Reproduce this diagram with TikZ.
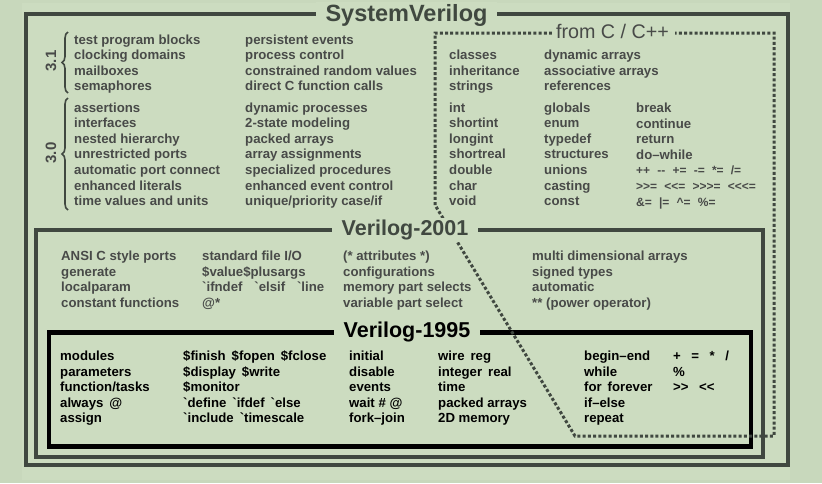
\documentclass[tikz,border=0pt]{standalone}
\usepackage{fontspec}
\setmainfont{Liberation Sans}[Ligatures=TeXOff]
\usetikzlibrary{decorations.pathreplacing}
\definecolor{bgout}{RGB}{200,216,188}
\definecolor{bgin}{RGB}{204,220,192}
\definecolor{frame}{RGB}{64,72,64}
\definecolor{txtgray}{RGB}{72,74,72}
\tikzset{
  svtxt/.style={anchor=base west, inner sep=0pt, text=txtgray, font=\fontsize{13.2}{15}\selectfont\bfseries},
  oldtxt/.style={anchor=base west, inner sep=0pt, text=black, font=\fontsize{13.2}{15}\selectfont\bfseries},
  title/.style={anchor=base, fill=bgin, inner xsep=10pt, inner ysep=2pt, font=\fontsize{21.5}{24}\selectfont\bfseries},
  brc/.style={draw=frame, line width=1.6pt, decorate, decoration={brace, amplitude=6pt}},
  dotline/.style={draw=frame, line width=3pt, dash pattern=on 3pt off 2.2pt}
}
\newcommand\colm[5]{%
  \foreach \t [count=\i] in {#5} \node[#4, name=#1\i] at (#2, {#3+(\i-1)*15.6}) {\t};}
\newcommand\gapx{\hspace{0.45em}}
\newcommand\gapo{\hspace{0.6em}}
\begin{document}
\begin{tikzpicture}[x=1pt,y=-1pt]
\fill[bgout] (0,0) rectangle (822,483);
\useasboundingbox (0,0) rectangle (822,483);
\fill[bgin] (22,3) rectangle (790,480);
% frames
\draw[frame, line width=4.5pt] (26,14) rectangle (788,465);
\draw[frame, line width=3.8pt] (36,230) rectangle (763,457);
\draw[black, line width=4.5pt] (49,332.5) rectangle (751,446.5);
% from C / C++ dotted outline
\coordinate (c1) at (552,33);
\coordinate (c2) at (435,33);
\coordinate (c3) at (435,205);
\coordinate (c4) at (575,436);
\coordinate (c5) at (774,436);
\coordinate (c6) at (774,33);
\coordinate (c7) at (675,33);
\draw[dotline] (c1) -- (c2) -- (c3) -- (c4) -- (c5) -- (c6) -- (c7);
% titles
\node[title, text=frame, font=\fontsize{23.5}{26}\selectfont\bfseries] (tsv) at (406.5,21) {SystemVerilog};
\node[title, text=frame] (t01) at (405,235.5) {Verilog-2001};
\node[title, text=black] (t95) at (407,337.5) {Verilog-1995};
\node[title, text=txtgray, inner xsep=4pt, font=\fontsize{19.7}{22}\selectfont] (tc) at (612.5,38.5) {from C / C++};
% braces
\draw[brc] (68,93) -- (68,32);
\draw[brc] (68,210) -- (68,98);
\node[rotate=90, inner sep=0pt, text=txtgray, font=\fontsize{15}{17}\selectfont\bfseries] (l31) at (51,61) {3.1};
\node[rotate=90, inner sep=0pt, text=txtgray, font=\fontsize{15}{17}\selectfont\bfseries] (l30) at (51,153) {3.0};
% SystemVerilog 3.1
\colm{sa}{74}{44}{svtxt}{test program blocks, clocking domains, mailboxes, semaphores}
\colm{sb}{245}{44}{svtxt}{persistent events, process control, constrained random values, direct C function calls}
% SystemVerilog 3.0
\colm{sc}{74}{112}{svtxt}{assertions, interfaces, nested hierarchy, unrestricted ports, automatic port connect, enhanced literals, time values and units}
\colm{sd}{245}{112}{svtxt}{dynamic processes, 2-state modeling, packed arrays, array assignments, specialized procedures, enhanced event control, unique/priority case/if}
% from C / C++
\colm{ca}{449}{59.6}{svtxt}{classes, inheritance, strings}
\colm{cb}{544}{59.6}{svtxt}{dynamic arrays, associative arrays, references}
\colm{cc}{449}{112}{svtxt}{int, shortint, longint, shortreal, double, char, void}
\colm{cd}{544}{112}{svtxt}{globals, enum, typedef, structures, unions, casting, const}
\colm{ce}{636}{112.5}{svtxt}{break, continue, return, do–while, {\fontsize{12}{14}\selectfont++\gapo--\gapo+=\gapo-=\gapo*=\gapo/=}, {\fontsize{12}{14}\selectfont>>=\gapo<<=\gapo>>>=\gapo<<<=}, {\fontsize{12}{14}\selectfont\&=\gapo|=\gapo\textasciicircum=\gapo\%=}}
% Verilog-2001
\colm{va}{61}{260.5}{svtxt}{ANSI C style ports, generate, localparam, constant functions}
\colm{vb}{202}{260.5}{svtxt}{standard file I/O, \$value\$plusargs, `ifndef\hspace{0.9em}`elsif\hspace{0.9em}`line, @*}
\colm{vc}{343}{260.5}{svtxt}{(* attributes *), configurations, memory part selects, variable part select}
\colm{vd}{532}{260.5}{svtxt}{multi dimensional arrays, signed types, automatic, ** (power operator)}
% Verilog-1995
\colm{wa}{60}{360.5}{oldtxt}{modules, parameters, function/tasks, always\gapx@, assign}
\colm{wb}{183}{360.5}{oldtxt}{\$finish\gapx\$fopen\gapx\$fclose, \$display\gapx\$write, \$monitor, `define\gapx`ifdef\gapx`else, `include\gapx`timescale}
\colm{wc}{349}{360.5}{oldtxt}{initial, disable, events, wait \# @, fork–join}
\colm{wd}{438}{360.5}{oldtxt}{wire\gapx reg, integer\gapx real, time, packed arrays, 2D memory}
\colm{we}{584}{360.5}{oldtxt}{begin–end, while, for\gapx forever, if–else, repeat}
\colm{wf}{673}{360.5}{oldtxt}{+\hspace{0.8em}=\hspace{0.8em}*\hspace{0.8em}/, \%, >>\hspace{0.8em}<<}
\end{tikzpicture}
\end{document}
